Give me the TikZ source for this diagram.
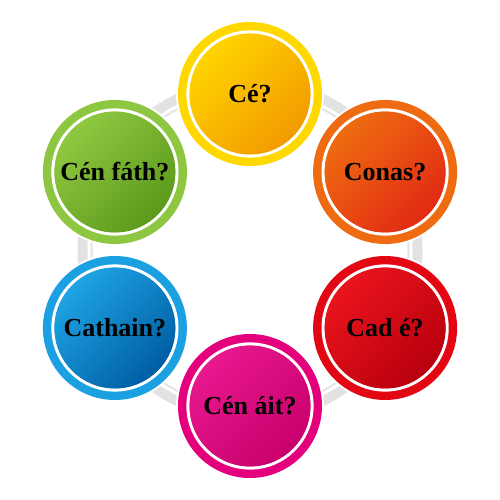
\documentclass[tikz,border=0pt]{standalone}
\usepackage{fontspec}
\setmainfont{Liberation Serif}
\usepackage{xcolor}
\usetikzlibrary{calc}
\definecolor{bandgrey}{HTML}{E2E2E2}
\definecolor{ceRing}{HTML}{FFD800}
\definecolor{ceLite}{HTML}{FFD400}
\definecolor{ceDark}{HTML}{F29A00}
\definecolor{conasRing}{HTML}{EE6B12}
\definecolor{conasLite}{HTML}{EE6C10}
\definecolor{conasDark}{HTML}{E22A14}
\definecolor{cadeRing}{HTML}{E30613}
\definecolor{cadeLite}{HTML}{EA141C}
\definecolor{cadeDark}{HTML}{B8000E}
\definecolor{cenaitRing}{HTML}{E4007D}
\definecolor{cenaitLite}{HTML}{E8188E}
\definecolor{cenaitDark}{HTML}{C8006C}
\definecolor{cathainRing}{HTML}{1BA1E2}
\definecolor{cathainLite}{HTML}{1EA4E4}
\definecolor{cathainDark}{HTML}{005DA3}
\definecolor{cenfathRing}{HTML}{8DC640}
\definecolor{cenfathLite}{HTML}{8FC840}
\definecolor{cenfathDark}{HTML}{5C9A1C}
\tikzset{qtext/.style={font=\bfseries\fontsize{26}{30}\selectfont, text=black}}

\begin{document}
\begin{tikzpicture}[x=1pt,y=1pt]
            \useasboundingbox[fill=white] (0,0) rectangle (500,500);
            \coordinate (hub) at (250,250);
            % grey ring behind the bubbles
            \draw[bandgrey, line width=15pt] (hub) circle (165);
            \draw[white, line width=3pt] (hub) circle (161);
            \foreach \ang/\name/\col/\txt in {90/ce/ce/{Cé?}, 30/conas/conas/{Conas?},
                    -30/cade/cade/{Cad é?}, -90/cenait/cenait/{Cén áit?},
                    210/cathain/cathain/{Cathain?}, 150/cenfath/cenfath/{Cén fáth?}}{
                \coordinate (\name c) at ($(hub)+(\ang:156)$);
                \draw[white, line width=2pt] (\name c) circle (73);
                \fill[\col Ring] (\name c) circle (72);
                \draw[white, line width=3.2pt] (\name c) circle (62);
                \shade[top color=\col Lite, bottom color=\col Dark, shading angle=45] (\name c) circle (60.5);
                \node[qtext] (\name) at (\name c) {\txt};
            }
        \end{tikzpicture}
\end{document}
